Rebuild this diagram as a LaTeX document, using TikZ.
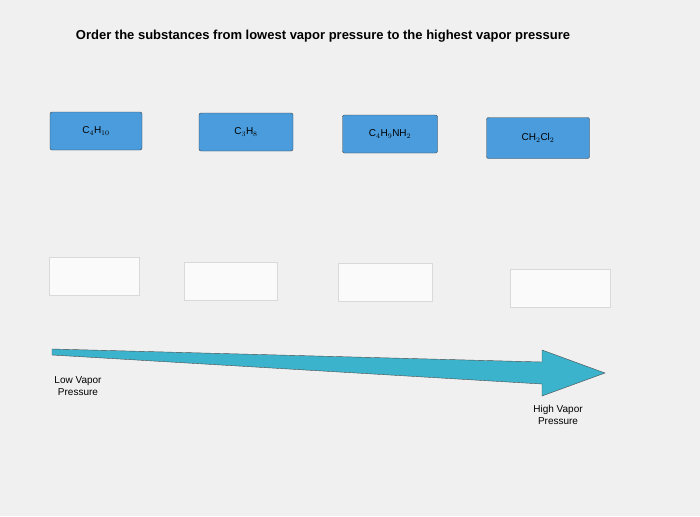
\documentclass[tikz,border=0pt]{standalone}
\usepackage{fontspec}
\setmainfont{Liberation Sans}
\definecolor{chipc}{HTML}{4A9CDC}
\definecolor{arrc}{HTML}{3BB3CC}
\begin{document}
\begin{tikzpicture}[x=1pt,y=-1pt,
  chip/.style={draw=black!75,fill=chipc,rounded corners=2pt,minimum width=92pt,minimum height=38pt,font=\normalsize},
  slot/.style={draw=black!15,fill=white!60!gray!10,minimum width=90pt,minimum height=38pt},
  lbl/.style={font=\normalsize,align=center,inner sep=0pt}]
\fill[gray!12] (0,0) rectangle (700,516);
\useasboundingbox (0,0) rectangle (700,516);
\node[font=\fontsize{13}{15}\selectfont\bfseries] (title) at (323,36) {Order the substances from lowest vapor pressure to the highest vapor pressure};
\node[chip] (c1) at (96,131) {C$_4$H$_{10}$};
\node[chip,minimum width=94pt] (c2) at (246,132) {C$_3$H$_8$};
\node[chip,minimum width=95pt] (c3) at (390,134) {C$_4$H$_9$NH$_2$};
\node[chip,minimum width=103pt,minimum height=41pt] (c4) at (538,138) {CH$_2$Cl$_2$};
\node[slot] (s1) at (94,276) {};
\node[slot,minimum width=93pt] (s2) at (231,281) {};
\node[slot,minimum width=94pt] (s3) at (385,282) {};
\node[slot,minimum width=100pt] (s4) at (560,288) {};
\draw[black!70,fill=arrc] (52,349) -- (542,362) -- (542,350) -- (605,373) -- (542,396) -- (542,384) -- (52,355) -- cycle;
\node[lbl] (low) at (78,386) {Low Vapor\\Pressure};
\node[lbl] (high) at (558,415) {High Vapor\\Pressure};
\end{tikzpicture}
\end{document}
